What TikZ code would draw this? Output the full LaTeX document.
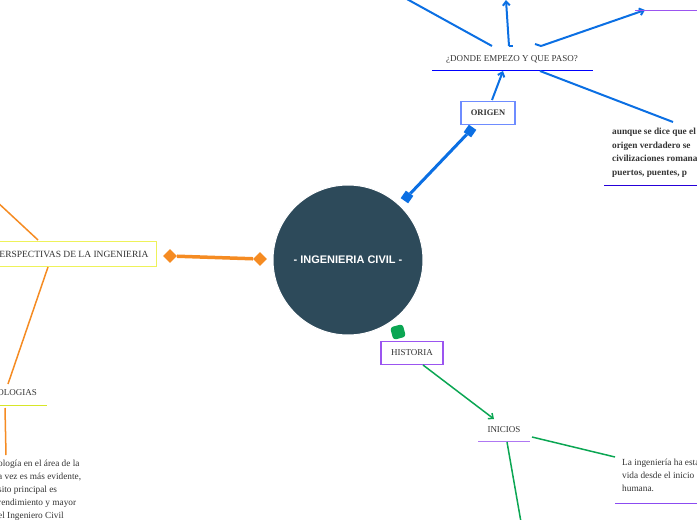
\documentclass[tikz,border=0pt]{standalone}
\usepackage{fontspec}
\setmainfont{Liberation Serif}
\newfontfamily\sansf{Liberation Sans}
\usetikzlibrary{arrows.meta,shapes.geometric}
\definecolor{core}{HTML}{2D4A5A}
\definecolor{orng}{HTML}{F58B22}
\definecolor{blu}{HTML}{0B6FE3}
\definecolor{grn}{HTML}{0BA653}
\definecolor{purp}{HTML}{9B55F0}
\definecolor{txt}{HTML}{333333}
\definecolor{ylw}{HTML}{EEF25A}
\definecolor{lime}{HTML}{D7E628}
\definecolor{oribd}{HTML}{6E8CFF}
\tikzset{
 lbl/.style={font=\fontsize{9}{11}\selectfont, text=txt, inner sep=2pt},
 para/.style={font=\fontsize{9.3}{13}\selectfont, text=txt, align=left, inner sep=0pt, anchor=north west},
 dia/.style={diamond, minimum size=14pt, inner sep=0pt},
 sarr/.style={-{Straight Barb[length=4pt,width=7pt]}},
}
\begin{document}
\begin{tikzpicture}[x=1pt,y=-1pt]
\useasboundingbox (0,0) rectangle (697,520);
\clip (0,0) rectangle (697,520);
% centre
\node[circle, fill=core, minimum size=150pt, draw=white, line width=1pt] (c) at (348,260) {};
\node[font=\sansf\bfseries\fontsize{11}{13}\selectfont, text=white] (ct) at (c) {- INGENIERIA CIVIL -};
% orange branch
\node[dia, fill=orng] (od1) at (260,259) {};
\node[dia, fill=orng] (od2) at (170,256) {};
\draw[orng, line width=3.5pt] (od1) -- (od2);
\node[draw=ylw, line width=1.2pt, fill=white, lbl, anchor=east, minimum height=25pt, inner xsep=8pt, font=\fontsize{9.5}{11}\selectfont] (per) at (157,254) {PERSPECTIVAS DE LA INGENIERIA};
\coordinate (o1) at (38,240); \coordinate (o1e) at (-5,200);
\draw[orng, line width=1.5pt] (o1) -- (o1e);
\coordinate (o2) at (48,267); \coordinate (o2e) at (8,384);
\draw[orng, line width=1.5pt] (o2) -- (o2e);
\node[lbl, anchor=east] (tec) at (39,393) {TECNOLOGIAS};
\coordinate (tu1) at (-5,405); \coordinate (tu2) at (47,405);
\draw[lime, line width=0.8pt] (tu1) -- (tu2);
\coordinate (t1) at (5,408); \coordinate (t2) at (6,455);
\draw[orng, line width=1.5pt] (t1) -- (t2);
\node[para] (tp) at (-2,460) {ología en el área de la\\a vez es más evidente,\\sito principal es\\rendimiento y mayor\\ el Ingeniero Civil};
% blue branch
\node[dia, fill=blu, minimum size=13pt, rotate=10] (bd1) at (407,197) {};
\node[dia, fill=blu, minimum size=13pt, rotate=10] (bd2) at (470,131) {};
\draw[blu, line width=3pt] (bd1) -- (bd2);
\node[draw=oribd, line width=1.2pt, fill=white, lbl, minimum width=54pt, minimum height=23pt, font=\bfseries\fontsize{8.5}{10}\selectfont] (ori) at (488,113) {ORIGEN};
\node[lbl] (don) at (512,59) {¿DONDE EMPEZO Y QUE PASO?};
\coordinate (du1) at (432,70); \coordinate (du2) at (593,70);
\draw[blue, line width=0.8pt] (du1) -- (du2);
\coordinate (ob) at (492,100); \coordinate (da) at (503,71);
\draw[blu, line width=2pt, sarr] (ob) -- (da);
\coordinate (b1) at (492,46); \coordinate (b1e) at (405,-2);
\draw[blu, line width=2pt] (b1) -- (b1e);
\coordinate (b2) at (509,46); \coordinate (b2e) at (506,0);
\draw[blu, line width=2pt, sarr] (b2) -- (b2e);
\draw[blu, line width=2pt] (b2) -- ++(4,0);
\coordinate (b3) at (541,46); \coordinate (b3e) at (645,10);
\draw[blu, line width=2pt, sarr] (b3) -- (b3e);
\draw[blu, line width=2pt] (b3) -- ++(-6,-2);
\coordinate (pu1) at (635,10); \coordinate (pu2) at (697,10);
\draw[purp, line width=1pt] (pu1) -- (pu2);
\coordinate (b4) at (540,71); \coordinate (b4e) at (673,122);
\draw[blu, line width=2pt] (b4) -- (b4e);
\node[para, font=\bfseries\fontsize{9.3}{13.5}\selectfont] (au) at (612,128) {aunque se dice que el\\origen verdadero se\\civilizaciones romanas\\puertos, puentes, p};
\coordinate (au1) at (604,185); \coordinate (au2) at (697,185);
\draw[blue!80!purple, line width=1pt] (au1) -- (au2);
% green branch
\node[fill=grn, rounded corners=3pt, minimum size=13pt, rotate=15, inner sep=0pt] (gd) at (398,332) {};
\node[draw=purp, line width=1.2pt, fill=white, lbl, minimum width=62pt, minimum height=23pt] (his) at (412,353) {HISTORIA};
\coordinate (g1) at (423,365); \coordinate (g1e) at (494,419);
\draw[grn, line width=1.5pt, sarr] (g1) -- (g1e);
\node[lbl] (ini) at (504,430) {INICIOS};
\coordinate (iu1) at (478,441); \coordinate (iu2) at (530,441);
\draw[purp!80, line width=1pt] (iu1) -- (iu2);
\coordinate (g2) at (532,437); \coordinate (g2e) at (615,457);
\draw[grn, line width=1.5pt] (g2) -- (g2e);
\coordinate (g3) at (507,442); \coordinate (g3e) at (521,522);
\draw[grn, line width=1.5pt] (g3) -- (g3e);
\node[para] (la) at (622,459) {La ingeniería ha estado\\vida desde el inicio\\humana.};
\coordinate (lu1) at (615,503); \coordinate (lu2) at (697,503);
\draw[purp!90!blue, line width=1pt] (lu1) -- (lu2);
\end{tikzpicture}
\end{document}
